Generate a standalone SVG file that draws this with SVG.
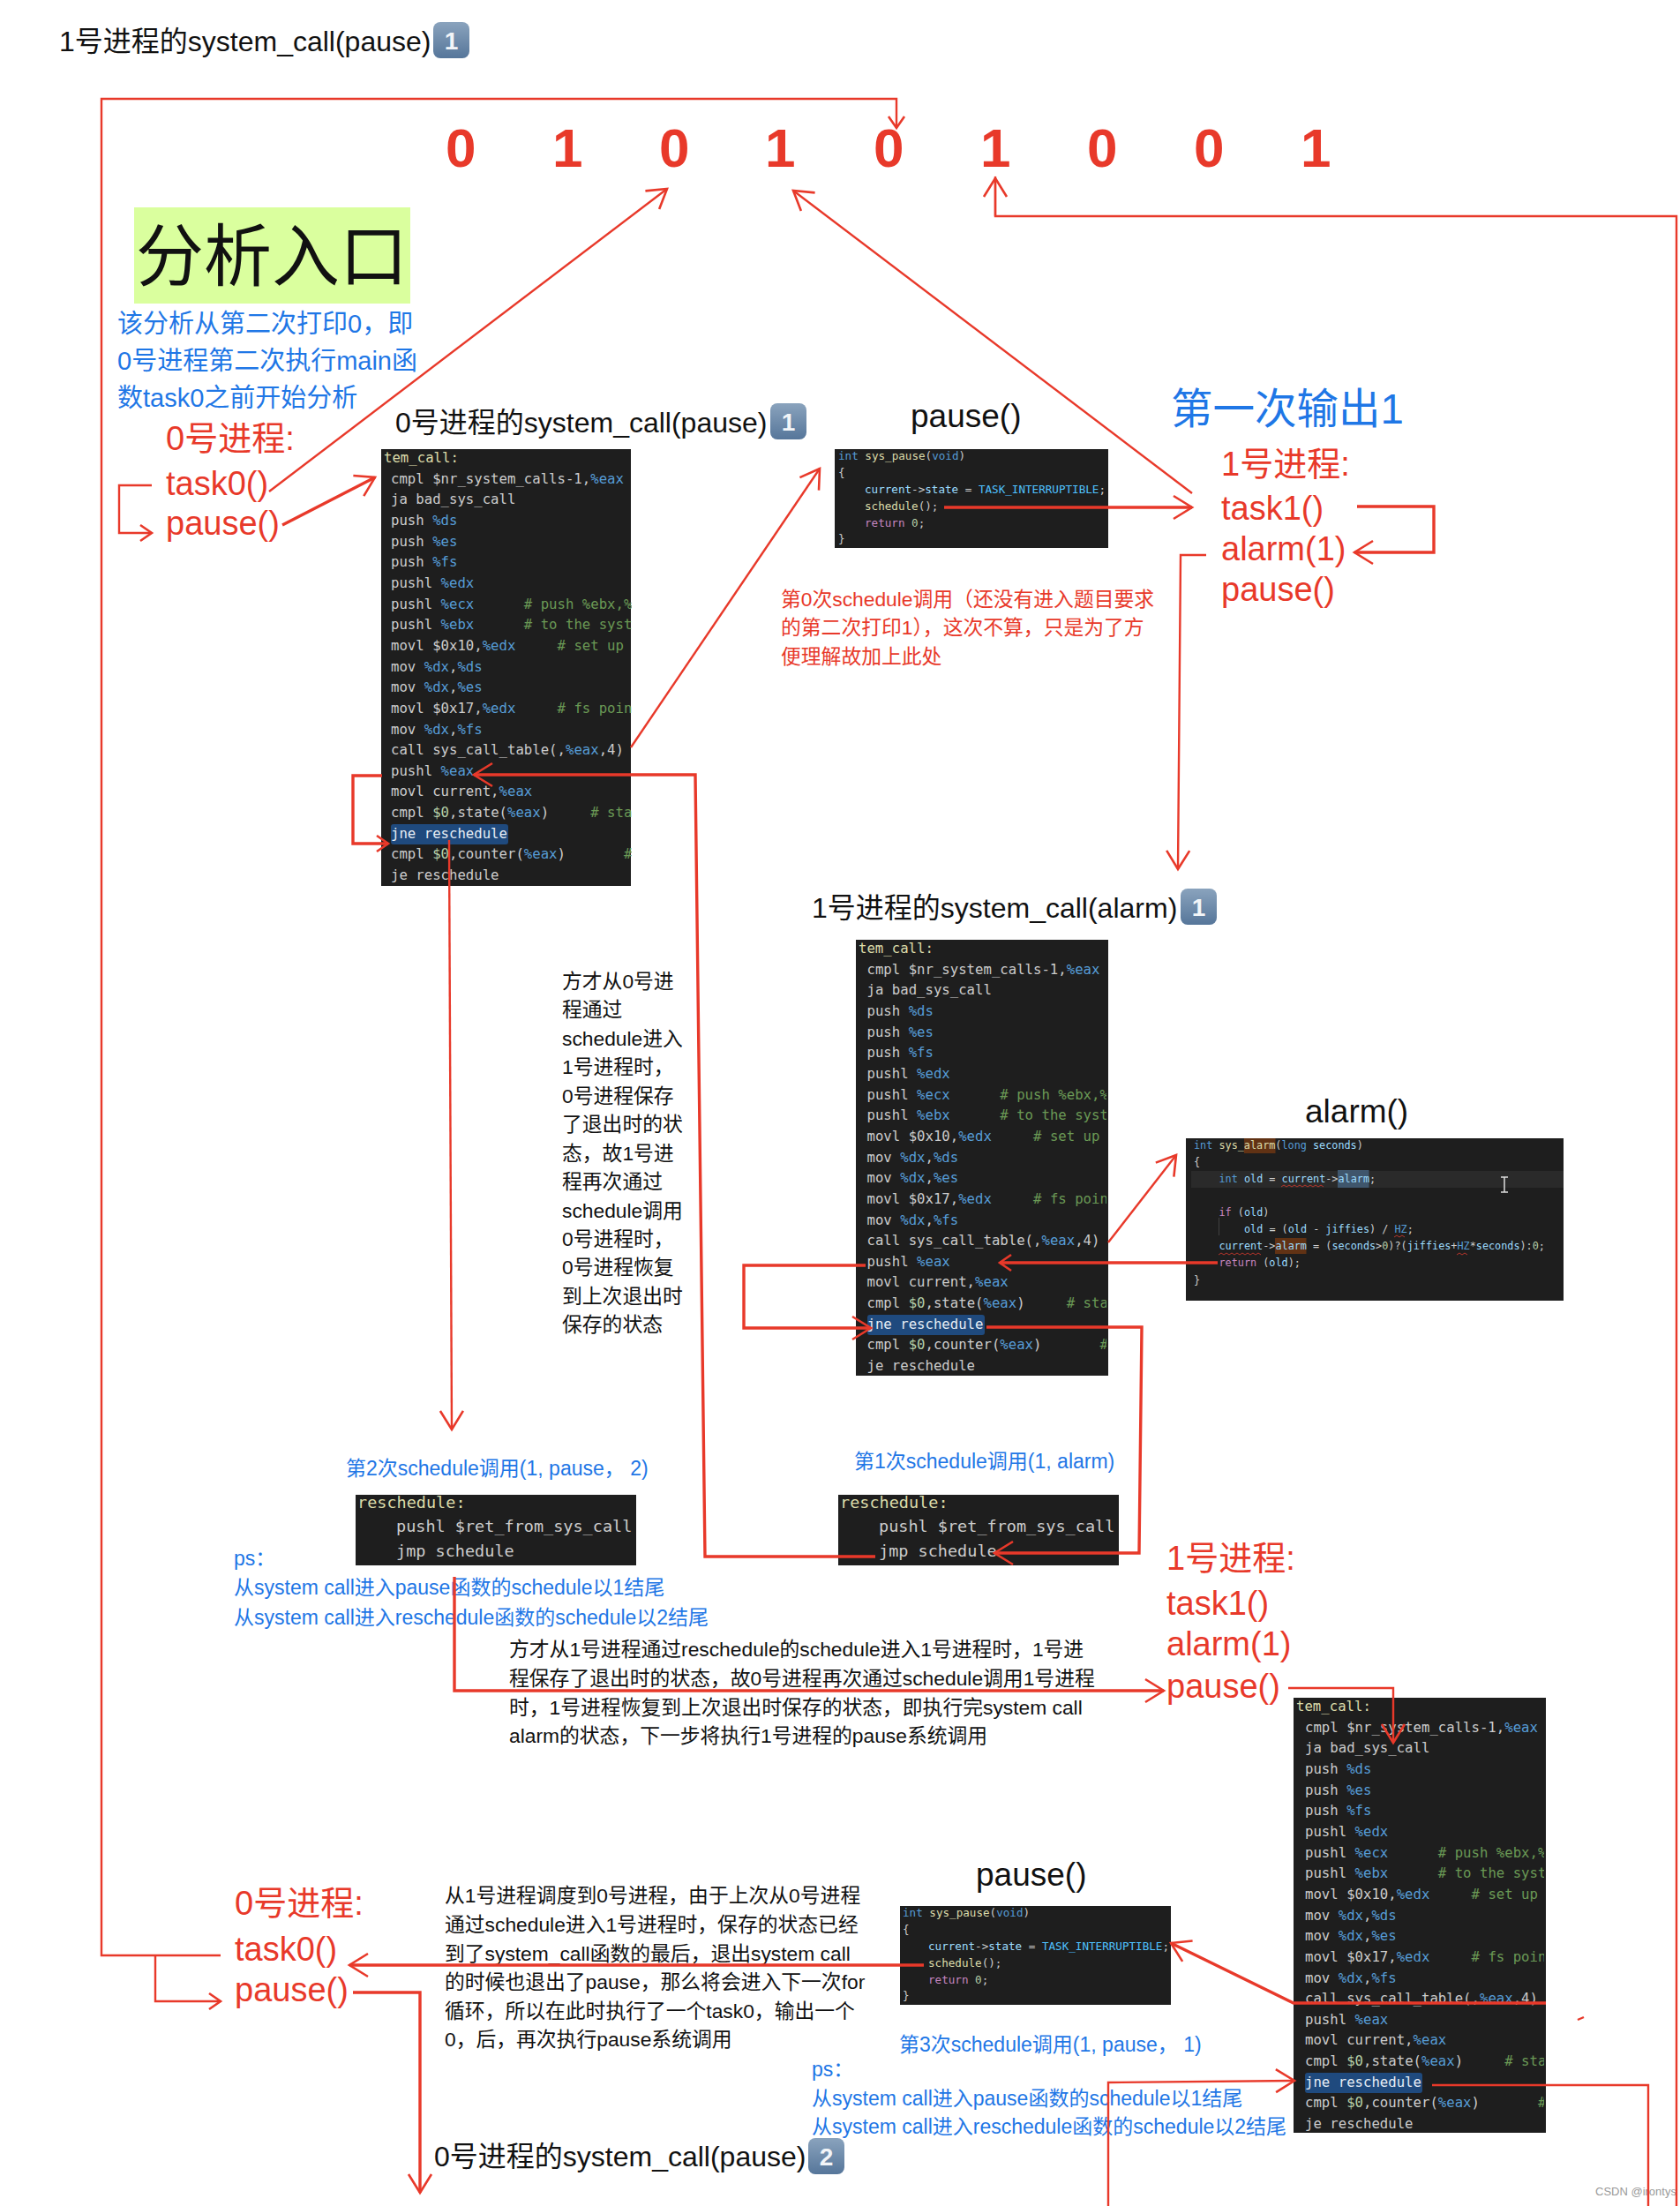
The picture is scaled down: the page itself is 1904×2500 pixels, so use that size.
<svg xmlns="http://www.w3.org/2000/svg" width="1904" height="2500" viewBox="0 0 1904 2500">
<style>
text{font-family:"Liberation Sans","Noto Sans CJK SC",sans-serif;white-space:pre}
.ttl{font-size:32px;fill:#111}
.big{font-size:37px;fill:#111}
.proc{font-size:38px;fill:#e8392a}
.blue{font-size:23px;fill:#1f77e6}
.note{font-size:22.8px;fill:#111}
.rnote{font-size:22.8px;fill:#e8392a}
.digit{font-size:62px;font-weight:700;fill:#e8392a}
.cap{font-size:28px;font-weight:700;fill:#f2f5f8;text-anchor:middle}
.code text,text.code{font-family:"DejaVu Sans Mono","Liberation Mono",monospace;font-size:15.66px;fill:#cccccc}
.small text{font-size:12.6px}
.mid text{font-size:18.5px}
.tiny text{font-size:11.8px}
.bg{fill:#1e1e1e}
.r{fill:#569cd6}
.g{fill:#6a9955}
.y{fill:#dcdcaa}
.n{fill:#b5cea8}
.p{fill:#c586c0}
.v{fill:#9cdcfe}
.hl{fill:#1f4a7e}
.l{fill:none;stroke:#e8392a;stroke-width:2.4}
.t{fill:none;stroke:#e8392a;stroke-width:3.4}
.head{fill:none;stroke:#e8392a;stroke-width:2.6}
.w{fill:none;stroke:#b5352c;stroke-width:1}
</style>
<defs>
<linearGradient id="capfill" x1="0" y1="0" x2="0" y2="1"><stop offset="0" stop-color="#8aa3bd"/><stop offset="1" stop-color="#56769a"/></linearGradient>
<marker id="a" markerUnits="userSpaceOnUse" markerWidth="60" markerHeight="60" refX="30" refY="30" orient="auto" overflow="visible"><path class="head" d="M9,17 L30,30 L9,43"/></marker>
<marker id="s" markerUnits="userSpaceOnUse" markerWidth="60" markerHeight="60" refX="30" refY="30" orient="auto" overflow="visible"><path class="head" d="M17,21 L30,30 L17,39"/></marker>
<clipPath id="sc"><rect x="0" y="0" width="284" height="495"/></clipPath>
<clipPath id="ps"><rect x="0" y="0" width="310" height="112"/></clipPath>
</defs>
<rect width="1904" height="2500" fill="#fff"/>

<g id="title-1"><text class="ttl" x="67" y="58">1号进程的system_call(pause)</text><rect x="491" y="25" width="41" height="41" rx="8" fill="url(#capfill)"/><text class="cap" x="511.500" y="56">1</text></g>

<g id="digits">
<text class="digit" x="505" y="189">0</text><text class="digit" x="626" y="189">1</text><text class="digit" x="747" y="189">0</text><text class="digit" x="867" y="189">1</text><text class="digit" x="990" y="189">0</text><text class="digit" x="1111" y="189">1</text><text class="digit" x="1232" y="189">0</text><text class="digit" x="1353" y="189">0</text><text class="digit" x="1474" y="189">1</text>
</g>

<g id="entry"><rect x="152" y="235" width="313" height="109" fill="#daff9e"/><text x="154" y="318" font-size="77" fill="#111">分析入口</text></g>
<g id="entry-note" font-size="29" fill="#1f77e6"><text x="133" y="377">该分析从第二次打印0，即</text><text x="133" y="419">0号进程第二次执行main函</text><text x="133" y="461">数task0之前开始分析</text></g>

<g id="proc0-a"><text class="proc" x="188" y="510">0号进程:</text><text class="proc" x="188" y="561">task0()</text><text class="proc" x="188" y="606">pause()</text></g>

<g id="title-0a"><text class="ttl" x="448" y="490">0号进程的system_call(pause)</text><rect x="873" y="457" width="41" height="41" rx="8" fill="url(#capfill)"/><text class="cap" x="893.500" y="488">1</text></g>

<g id="syscall-a" class="code" transform="translate(432,509)"><rect class="bg" width="283" height="495"/><rect class="hl" x="11" y="425" width="133" height="23" rx="3"/><g clip-path="url(#sc)">
<text class="y" x="3" y="15" style="fill:#dcdcaa">tem_call:</text>
<text x="11" y="38.700">cmpl $nr_system_calls-1,<tspan class="r">%eax</tspan></text>
<text x="11" y="62.300">ja bad_sys_call</text>
<text x="11" y="86">push <tspan class="r">%ds</tspan></text>
<text x="11" y="109.600">push <tspan class="r">%es</tspan></text>
<text x="11" y="133.300">push <tspan class="r">%fs</tspan></text>
<text x="11" y="156.900">pushl <tspan class="r">%edx</tspan></text>
<text x="11" y="180.600">pushl <tspan class="r">%ecx</tspan>      <tspan class="g">#&#160;push %ebx,%</tspan></text>
<text x="11" y="204.200">pushl <tspan class="r">%ebx</tspan>      <tspan class="g">#&#160;to the syst</tspan></text>
<text x="11" y="227.900">movl $0x10,<tspan class="r">%edx</tspan>     <tspan class="g">#&#160;set up</tspan></text>
<text x="11" y="251.500">mov <tspan class="r">%dx</tspan>,<tspan class="r">%ds</tspan></text>
<text x="11" y="275.200">mov <tspan class="r">%dx</tspan>,<tspan class="r">%es</tspan></text>
<text x="11" y="298.800">movl $0x17,<tspan class="r">%edx</tspan>     <tspan class="g">#&#160;fs poin</tspan></text>
<text x="11" y="322.500">mov <tspan class="r">%dx</tspan>,<tspan class="r">%fs</tspan></text>
<text x="11" y="346.100">call sys_call_table(,<tspan class="r">%eax</tspan>,4)</text>
<text x="11" y="369.800">pushl <tspan class="r">%eax</tspan></text>
<text x="11" y="393.400">movl current,<tspan class="r">%eax</tspan></text>
<text x="11" y="417.100">cmpl <tspan class="n">$0</tspan>,state(<tspan class="r">%eax</tspan>)     <tspan class="g">#&#160;sta</tspan></text>
<text x="11" y="440.700" style="fill:#e6edf5">jne reschedule</text>
<text x="11" y="464.400">cmpl <tspan class="n">$0</tspan>,counter(<tspan class="r">%eax</tspan>)       <tspan class="g">#</tspan></text>
<text x="11" y="488">je reschedule</text>
</g></g>

<g id="pause-label-a"><text class="big" x="1032" y="484">pause()</text></g>
<g id="pause-a" class="code small" transform="translate(946,509)"><rect class="bg" width="310" height="112"/><g clip-path="url(#ps)">
<text x="4" y="12"><tspan class="r">int</tspan> <tspan class="y">sys_pause</tspan>(<tspan class="r">void</tspan>)</text>
<text x="4" y="31">{</text>
<text x="34" y="50"><tspan class="v">current</tspan>-&gt;<tspan class="v">state</tspan> = <tspan style="fill:#4fc1ff">TASK_INTERRUPTIBLE</tspan>;</text>
<text x="34" y="68.500"><tspan class="y">schedule</tspan>();</text>
<text x="34" y="88"><tspan class="p">return</tspan> <tspan class="n">0</tspan>;</text>
<text x="4" y="106">}</text>
</g></g>

<g id="note-0"><text class="rnote" x="885" y="687">第0次schedule调用（还没有进入题目要求</text><text class="rnote" x="885" y="719">的第二次打印1），这次不算，只是为了方</text><text class="rnote" x="885" y="752">便理解故加上此处</text></g>

<g id="first-output"><text x="1327" y="480" font-size="47.500" fill="#1f77e6">第一次输出1</text></g>
<g id="proc1-a"><text class="proc" x="1384" y="539">1号进程:</text><text class="proc" x="1384" y="589">task1()</text><text class="proc" x="1384" y="635">alarm(1)</text><text class="proc" x="1384" y="681">pause()</text></g>

<g id="title-1b"><text class="ttl" x="920" y="1040">1号进程的system_call(alarm)</text><rect x="1338" y="1007" width="41" height="41" rx="8" fill="url(#capfill)"/><text class="cap" x="1358.500" y="1038">1</text></g>

<g id="syscall-b" class="code" transform="translate(970,1065)"><rect class="bg" width="286" height="494"/><rect class="hl" x="13" y="425" width="133" height="23" rx="3"/><g clip-path="url(#sc)">
<text x="3" y="15" style="fill:#dcdcaa">tem_call:</text>
<text x="12.500" y="38.700">cmpl $nr_system_calls-1,<tspan class="r">%eax</tspan></text>
<text x="12.500" y="62.300">ja bad_sys_call</text>
<text x="12.500" y="86">push <tspan class="r">%ds</tspan></text>
<text x="12.500" y="109.600">push <tspan class="r">%es</tspan></text>
<text x="12.500" y="133.300">push <tspan class="r">%fs</tspan></text>
<text x="12.500" y="156.900">pushl <tspan class="r">%edx</tspan></text>
<text x="12.500" y="180.600">pushl <tspan class="r">%ecx</tspan>      <tspan class="g">#&#160;push %ebx,%</tspan></text>
<text x="12.500" y="204.200">pushl <tspan class="r">%ebx</tspan>      <tspan class="g">#&#160;to the syst</tspan></text>
<text x="12.500" y="227.900">movl $0x10,<tspan class="r">%edx</tspan>     <tspan class="g">#&#160;set up</tspan></text>
<text x="12.500" y="251.500">mov <tspan class="r">%dx</tspan>,<tspan class="r">%ds</tspan></text>
<text x="12.500" y="275.200">mov <tspan class="r">%dx</tspan>,<tspan class="r">%es</tspan></text>
<text x="12.500" y="298.800">movl $0x17,<tspan class="r">%edx</tspan>     <tspan class="g">#&#160;fs poin</tspan></text>
<text x="12.500" y="322.500">mov <tspan class="r">%dx</tspan>,<tspan class="r">%fs</tspan></text>
<text x="12.500" y="346.100">call sys_call_table(,<tspan class="r">%eax</tspan>,4)</text>
<text x="12.500" y="369.800">pushl <tspan class="r">%eax</tspan></text>
<text x="12.500" y="393.400">movl current,<tspan class="r">%eax</tspan></text>
<text x="12.500" y="417.100">cmpl <tspan class="n">$0</tspan>,state(<tspan class="r">%eax</tspan>)     <tspan class="g">#&#160;sta</tspan></text>
<text x="12.500" y="440.700" style="fill:#e6edf5">jne reschedule</text>
<text x="12.500" y="464.400">cmpl <tspan class="n">$0</tspan>,counter(<tspan class="r">%eax</tspan>)       <tspan class="g">#</tspan></text>
<text x="12.500" y="488">je reschedule</text>
</g></g>

<g id="alarm-label"><text class="big" x="1479" y="1272">alarm()</text></g>
<g id="alarm-panel" class="code tiny">
<rect class="bg" x="1344" y="1290" width="428" height="184"/>
<rect x="1350" y="1327" width="422" height="19" fill="#2a2a2a"/>
<rect x="1410" y="1290" width="35.500" height="17" fill="#613214"/>
<rect x="1516" y="1326" width="35.500" height="20" fill="#3f566c"/>
<rect x="1445" y="1403" width="35.500" height="18" fill="#613214"/>
<path d="M1381.500,1380V1400" stroke="#404040" fill="none"/>
<text x="1353" y="1302"><tspan class="r">int</tspan> <tspan class="y">sys_alarm</tspan>(<tspan class="r">long</tspan> <tspan class="v">seconds</tspan>)</text>
<text x="1353" y="1320.500">{</text>
<text x="1381.500" y="1340"><tspan class="r">int</tspan> <tspan class="v">old</tspan> = <tspan class="v">current</tspan>-&gt;<tspan class="v">alarm</tspan>;</text>
<text x="1381.500" y="1377.600"><tspan class="p">if</tspan> (<tspan class="v">old</tspan>)</text>
<text x="1410" y="1397"><tspan class="v">old</tspan> = (<tspan class="v">old</tspan> - <tspan class="v">jiffies</tspan>) / <tspan class="r">HZ</tspan>;</text>
<text x="1381.500" y="1416"><tspan class="v">current</tspan>-&gt;<tspan class="v">alarm</tspan> = (<tspan class="v">seconds</tspan>&gt;<tspan class="n">0</tspan>)?(<tspan class="v">jiffies</tspan>+<tspan class="r">HZ</tspan>*<tspan class="v">seconds</tspan>):<tspan class="n">0</tspan>;</text>
<text x="1381.500" y="1435"><tspan class="p">return</tspan> (<tspan class="v">old</tspan>);</text>
<text x="1353" y="1455">}</text>
<path class="w" d="M1452,1345l3,-2 3,2 3,-2 3,2 3,-2 3,2 3,-2 3,2 3,-2 3,2 3,-2 3,2 3,-2 3,2 3,-2 3,2"/>
<path class="w" d="M1381,1422l3,-2 3,2 3,-2 3,2 3,-2 3,2 3,-2 3,2 3,-2 3,2 3,-2 3,2 3,-2 3,2 3,-2 3,2"/>
<path class="w" d="M1580,1402l3,-2 3,2 3,-2 3,2"/>
<path class="w" d="M1651,1422l3,-2 3,2 3,-2 3,2"/>
<path d="M1701,1334h8M1705,1334v17M1701,1351h8" stroke="#ddd" stroke-width="1.500" fill="none"/>
</g>

<g id="text-back-0" class="x"><text class="note" x="637" y="1120">方才从0号进</text><text class="note" x="637" y="1152">程通过</text><text class="note" x="637" y="1185">schedule进入</text><text class="note" x="637" y="1217">1号进程时，</text><text class="note" x="637" y="1250">0号进程保存</text><text class="note" x="637" y="1282">了退出时的状</text><text class="note" x="637" y="1315">态，故1号进</text><text class="note" x="637" y="1347">程再次通过</text><text class="note" x="637" y="1380">schedule调用</text><text class="note" x="637" y="1412">0号进程时，</text><text class="note" x="637" y="1444">0号进程恢复</text><text class="note" x="637" y="1477">到上次退出时</text><text class="note" x="637" y="1509">保存的状态</text></g>

<g id="sched-2-label"><text class="blue" x="392" y="1672">第2次schedule调用(1, pause， 2)</text></g>
<g id="sched-1-label"><text class="blue" x="968" y="1664">第1次schedule调用(1, alarm)</text></g>

<g id="resched-a" class="code mid"><rect class="bg" x="403" y="1694" width="318" height="80"/><text x="405" y="1709" style="fill:#dcdcaa">reschedule:</text><text x="449" y="1736">pushl $ret_from_sys_call</text><text x="449" y="1764">jmp schedule</text></g>
<g id="resched-b" class="code mid"><rect class="bg" x="950" y="1694" width="318" height="80"/><text x="952" y="1709" style="fill:#dcdcaa">reschedule:</text><text x="996" y="1736">pushl $ret_from_sys_call</text><text x="996" y="1764">jmp schedule</text></g>

<g id="ps-a"><text class="blue" x="265" y="1774">ps：</text><text class="blue" x="265" y="1807">从system call进入pause函数的schedule以1结尾</text><text class="blue" x="265" y="1841">从system call进入reschedule函数的schedule以2结尾</text></g>

<g id="text-back-1"><text class="note" x="577" y="1877">方才从1号进程通过reschedule的schedule进入1号进程时，1号进</text><text class="note" x="577" y="1910">程保存了退出时的状态，故0号进程再次通过schedule调用1号进程</text><text class="note" x="577" y="1943">时，1号进程恢复到上次退出时保存的状态，即执行完system call</text><text class="note" x="577" y="1975">alarm的状态，下一步将执行1号进程的pause系统调用</text></g>

<g id="proc1-b"><text class="proc" x="1322" y="1779">1号进程:</text><text class="proc" x="1322" y="1830">task1()</text><text class="proc" x="1322" y="1876">alarm(1)</text><text class="proc" x="1322" y="1924">pause()</text></g>

<g id="syscall-c" class="code" transform="translate(1466,1924)"><rect class="bg" width="286" height="493"/><rect class="hl" x="13" y="425" width="133" height="23" rx="3"/><g clip-path="url(#sc)">
<text x="3" y="15" style="fill:#dcdcaa">tem_call:</text>
<text x="13" y="38.700">cmpl $nr_system_calls-1,<tspan class="r">%eax</tspan></text>
<text x="13" y="62.300">ja bad_sys_call</text>
<text x="13" y="86">push <tspan class="r">%ds</tspan></text>
<text x="13" y="109.600">push <tspan class="r">%es</tspan></text>
<text x="13" y="133.300">push <tspan class="r">%fs</tspan></text>
<text x="13" y="156.900">pushl <tspan class="r">%edx</tspan></text>
<text x="13" y="180.600">pushl <tspan class="r">%ecx</tspan>      <tspan class="g">#&#160;push %ebx,%</tspan></text>
<text x="13" y="204.200">pushl <tspan class="r">%ebx</tspan>      <tspan class="g">#&#160;to the syst</tspan></text>
<text x="13" y="227.900">movl $0x10,<tspan class="r">%edx</tspan>     <tspan class="g">#&#160;set up</tspan></text>
<text x="13" y="251.500">mov <tspan class="r">%dx</tspan>,<tspan class="r">%ds</tspan></text>
<text x="13" y="275.200">mov <tspan class="r">%dx</tspan>,<tspan class="r">%es</tspan></text>
<text x="13" y="298.800">movl $0x17,<tspan class="r">%edx</tspan>     <tspan class="g">#&#160;fs poin</tspan></text>
<text x="13" y="322.500">mov <tspan class="r">%dx</tspan>,<tspan class="r">%fs</tspan></text>
<text x="13" y="346.100">call sys_call_table(,<tspan class="r">%eax</tspan>,4)</text>
<text x="13" y="369.800">pushl <tspan class="r">%eax</tspan></text>
<text x="13" y="393.400">movl current,<tspan class="r">%eax</tspan></text>
<text x="13" y="417.100">cmpl <tspan class="n">$0</tspan>,state(<tspan class="r">%eax</tspan>)     <tspan class="g">#&#160;sta</tspan></text>
<text x="13" y="440.700" style="fill:#e6edf5">jne reschedule</text>
<text x="13" y="464.400">cmpl <tspan class="n">$0</tspan>,counter(<tspan class="r">%eax</tspan>)       <tspan class="g">#</tspan></text>
<text x="13" y="488">je reschedule</text>
</g></g>

<g id="proc0-b"><text class="proc" x="266" y="2170">0号进程:</text><text class="proc" x="266" y="2222">task0()</text><text class="proc" x="266" y="2268">pause()</text></g>

<g id="text-back-2"><text class="note" x="504" y="2156">从1号进程调度到0号进程，由于上次从0号进程</text><text class="note" x="504" y="2189">通过schedule进入1号进程时，保存的状态已经</text><text class="note" x="504" y="2222">到了system_call函数的最后，退出system call</text><text class="note" x="504" y="2254">的时候也退出了pause，那么将会进入下一次for</text><text class="note" x="504" y="2287">循环，所以在此时执行了一个task0，输出一个</text><text class="note" x="504" y="2319">0，后，再次执行pause系统调用</text></g>

<g id="pause-label-b"><text class="big" x="1106" y="2137">pause()</text></g>
<g id="pause-b" class="code small" transform="translate(1020,2160)"><rect class="bg" width="307" height="112"/><g clip-path="url(#ps)">
<text x="3" y="12"><tspan class="r">int</tspan> <tspan class="y">sys_pause</tspan>(<tspan class="r">void</tspan>)</text>
<text x="3" y="31">{</text>
<text x="32" y="50"><tspan class="v">current</tspan>-&gt;<tspan class="v">state</tspan> = <tspan style="fill:#4fc1ff">TASK_INTERRUPTIBLE</tspan>;</text>
<text x="32" y="68.500"><tspan class="y">schedule</tspan>();</text>
<text x="32" y="88"><tspan class="p">return</tspan> <tspan class="n">0</tspan>;</text>
<text x="3" y="106">}</text>
</g></g>

<g id="sched-3-label"><text class="blue" x="1019" y="2325">第3次schedule调用(1, pause， 1)</text></g>
<g id="ps-b"><text class="blue" x="920" y="2353">ps：</text><text class="blue" x="920" y="2386">从system call进入pause函数的schedule以1结尾</text><text class="blue" x="920" y="2418">从system call进入reschedule函数的schedule以2结尾</text></g>

<g id="title-0b"><text class="ttl" x="492" y="2455">0号进程的system_call(pause)</text><rect x="916" y="2423" width="41" height="41" rx="8" fill="url(#capfill)"/><text class="cap" x="936.500" y="2454">2</text></g>

<text x="1808" y="2488" font-size="13" fill="#9a9a9a">CSDN @irontys</text>

<g id="connectors">
<path class="l" d="M250,2216H115V112H1016V145" marker-end="url(#s)"/>
<path class="l" d="M1128,200V245H1900V2500" marker-end="none"/>
<path class="l" d="M1128,245V202" marker-end="url(#a)"/>
<path class="l" d="M305,557L756,214" marker-end="url(#a)"/>
<path class="t" d="M320,595L425,541" marker-end="url(#a)"/>
<path class="l" d="M172,550H135V604H172" marker-end="url(#s)"/>
<path class="l" d="M1351,559L899,216" marker-end="url(#a)"/>
<path class="l" d="M715,847L929,531" marker-end="url(#a)"/>
<path class="t" d="M1070,575H1351" marker-end="url(#a)"/>
<path class="t" d="M1538,574H1625V626H1535" marker-end="url(#a)"/>
<path class="l" d="M1367,629H1338L1335,985" marker-end="url(#a)"/>
<path class="l" d="M1256,1408L1333,1309" marker-end="url(#a)"/>
<path class="t" d="M1380,1431H1133" marker-end="url(#s)"/>
<path class="t" d="M981,1434H843V1505H987" marker-end="url(#a)"/>
<path class="t" d="M1118,1504H1294L1291,1760H1127" marker-end="url(#a)"/>
<path class="t" d="M992,1764H799L788,878H537" marker-end="url(#a)"/>
<path class="t" d="M433,879H400V956H440" marker-end="url(#s)"/>
<path class="l" d="M509,952L512,1620" marker-end="url(#a)"/>
<path class="t" d="M515,1787V1916H1319" marker-end="url(#a)"/>
<path class="l" d="M1460,1913H1579V1975" marker-end="url(#a)"/>
<path class="t" d="M1752,2270H1466L1327,2202" marker-end="url(#a)"/>
<path class="l" d="M1788,2289L1795,2286"/>
<path class="l" d="M1623,2363H1868V2500"/>
<path class="l" d="M1256,2500V2360L1467,2358" marker-end="url(#a)"/>
<path class="t" d="M1047,2227H396" marker-end="url(#a)"/>
<path class="t" d="M400,2258H476V2485" marker-end="url(#a)"/>
<path class="l" d="M176,2216V2268H250" marker-end="url(#s)"/>
</g>
</svg>
